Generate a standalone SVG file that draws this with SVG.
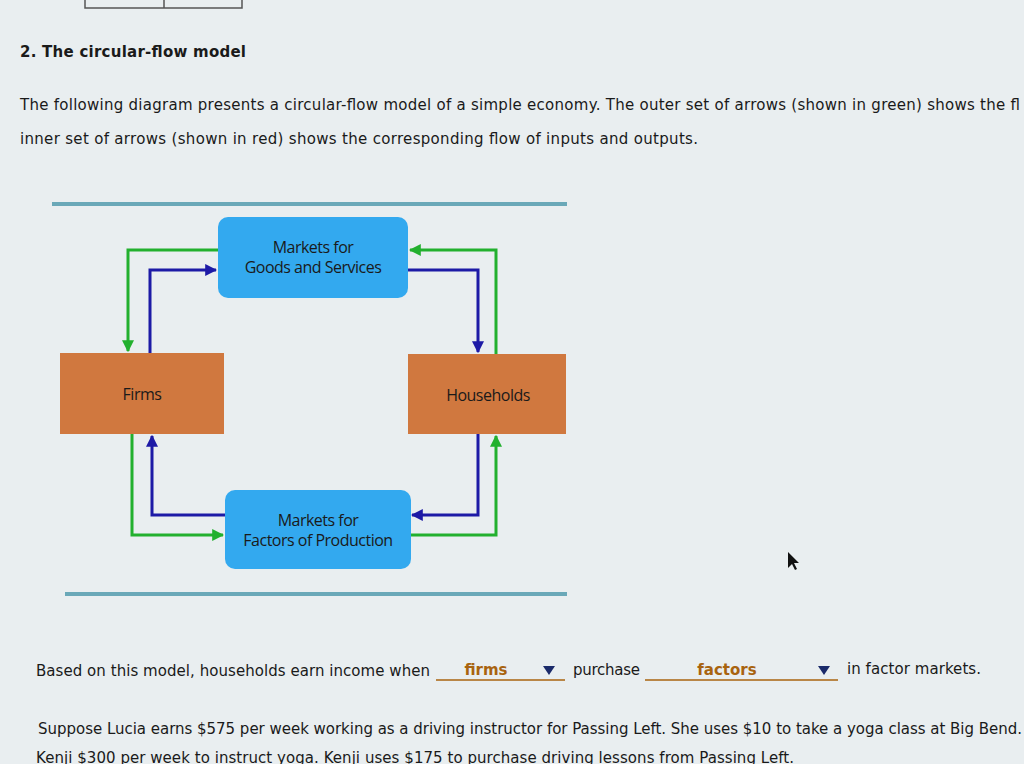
<svg xmlns="http://www.w3.org/2000/svg" width="1024" height="764" viewBox="0 0 1024 764">
<defs>
<style>
.t{font-family:"DejaVu Sans",sans-serif;font-size:15px;fill:#1a1a1a}
.n{font-family:"Open Sans","Liberation Sans",sans-serif;font-size:16px;fill:#1a1a1a;text-anchor:middle;letter-spacing:-0.5px}
.g{fill:none;stroke:#22b02e;stroke-width:3}
.b{fill:none;stroke:#1d1aa6;stroke-width:3}
.blue{fill:#33a9ef}
.or{fill:#d0783f}
.sel{font-family:"DejaVu Sans",sans-serif;font-size:15px;font-weight:bold;fill:#a8630f;text-anchor:middle}
</style>
<marker id="ag" viewBox="0 0 10 10" refX="9" refY="5" markerWidth="4" markerHeight="4" orient="auto"><path d="M0,0L10,5L0,10z" fill="#22b02e"/></marker>
<marker id="ab" viewBox="0 0 10 10" refX="9" refY="5" markerWidth="4" markerHeight="4" orient="auto"><path d="M0,0L10,5L0,10z" fill="#1d1aa6"/></marker>
</defs>
<rect width="1024" height="764" fill="#e9eef0"/>
<rect x="85" y="-2" width="157" height="10" fill="none" stroke="#555" stroke-width="1.5"/>
<line x1="164" y1="0" x2="164" y2="8" stroke="#555" stroke-width="1.5"/>
<text x="20" y="57" class="t" font-weight="bold" textLength="226">2. The circular-flow model</text>
<text x="20" y="110" class="t" textLength="1000">The following diagram presents a circular-flow model of a simple economy. The outer set of arrows (shown in green) shows the fl</text>
<text x="20" y="144" class="t" textLength="678">inner set of arrows (shown in red) shows the corresponding flow of inputs and outputs.</text>
<line x1="52" y1="204" x2="567" y2="204" stroke="#6aa8b8" stroke-width="4"/>
<line x1="65" y1="594" x2="567" y2="594" stroke="#6aa8b8" stroke-width="4"/>
<g id="connectors">
<path class="g" d="M218,250H128V351" marker-end="url(#ag)"/>
<path class="b" d="M150,353V270H216" marker-end="url(#ab)"/>
<path class="b" d="M408,270H478V352" marker-end="url(#ab)"/>
<path class="g" d="M496,354V250H410" marker-end="url(#ag)"/>
<path class="g" d="M132,434V535H223" marker-end="url(#ag)"/>
<path class="b" d="M225,515H152V436" marker-end="url(#ab)"/>
<path class="b" d="M478,434V515H412" marker-end="url(#ab)"/>
<path class="g" d="M410,535H496V436" marker-end="url(#ag)"/>
</g>
<g id="goods"><rect x="218" y="217" width="190" height="81" rx="10" class="blue"/><text x="313" y="253" class="n">Markets for</text><text x="313" y="273" class="n">Goods and Services</text></g>
<g id="firms"><rect x="60" y="353" width="164" height="81" class="or"/><text x="142" y="400" class="n">Firms</text></g>
<g id="households"><rect x="408" y="354" width="158" height="80" class="or"/><text x="488" y="401" class="n">Households</text></g>
<g id="factors"><rect x="225" y="490" width="186" height="79" rx="10" class="blue"/><text x="318" y="526" class="n">Markets for</text><text x="318" y="546" class="n">Factors of Production</text></g>
<text x="36" y="676" class="t" textLength="394">Based on this model, households earn income when</text>
<line x1="436" y1="680" x2="565" y2="680" stroke="#a8630f" stroke-width="1.5"/>
<text x="486" y="675" class="sel">firms</text>
<path d="M543,666h12l-6,9z" fill="#1a2a6a"/>
<text x="573" y="675" class="t" textLength="67">purchase</text>
<line x1="645" y1="680" x2="838" y2="680" stroke="#a8630f" stroke-width="1.5"/>
<text x="727" y="675" class="sel">factors</text>
<path d="M818,666h12l-6,9z" fill="#1a2a6a"/>
<text x="847" y="674" class="t" textLength="134">in factor markets.</text>
<text x="38" y="734" class="t" textLength="984">Suppose Lucia earns $575 per week working as a driving instructor for Passing Left. She uses $10 to take a yoga class at Big Bend.</text>
<text x="36" y="763" class="t" textLength="758">Kenji $300 per week to instruct yoga. Kenji uses $175 to purchase driving lessons from Passing Left.</text>
<path d="M788,552l0,16l4,-4l3,6l2,-1l-3,-6l5,0z" fill="#111"/>
</svg>
